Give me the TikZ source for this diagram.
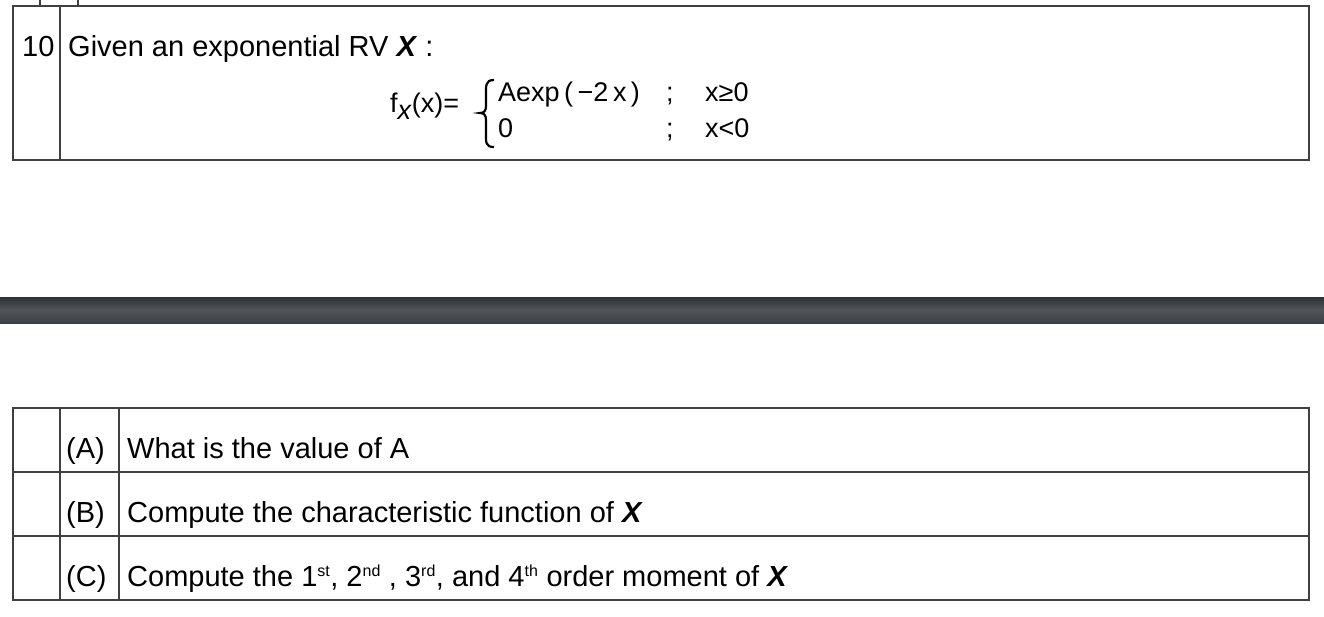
\documentclass[tikz,border=0pt]{standalone}
\usepackage{fontspec}
\setmainfont{Liberation Sans}
\definecolor{bartop}{HTML}{2E3033}
\definecolor{barmid}{HTML}{52565A}
\definecolor{barbot}{HTML}{3C3F42}
\begin{document}
\begin{tikzpicture}[x=1pt,y=-1pt,
  ln/.style={draw=black!75,line width=1.2pt},
  txt/.style={anchor=base west,inner sep=0pt,font=\fontsize{29}{34}\selectfont},
  mtx/.style={anchor=base west,inner sep=0pt,font=\fontsize{27}{32}\selectfont},
  sup/.style={font=\fontsize{16}{18}\selectfont}]
\useasboundingbox (0,0) rectangle (1324,616);
% top table
\draw[ln] (13,6) rectangle (1309,160);
\draw[ln] (60,6) -- (60,160);
\draw[ln] (40,0) -- (40,6);
\draw[ln] (78,0) -- (78,6);
\node[txt] (n10) at (22,56) {10};
\node[txt] (g) at (68,56) {Given an exponential RV \textbf{\textit{X}} :};
\node[mtx] (fx) at (390,112) {f\raisebox{-7pt}{\textit{x}}(x)=};
\draw[line width=2.2pt] (494,80) .. controls (485,80) and (486,86) .. (486,96) -- (486,106) .. controls (486,111) and (484,113) .. (480,113) .. controls (484,113) and (486,115) .. (486,120) -- (486,132) .. controls (486,142) and (485,147) .. (494,147);
\node[mtx] (a1) at (498,101) {Aexp\,(\,−2\,x\,)};
\node[mtx] (a2) at (498,137) {0};
\node[mtx] (s1) at (666,101) {;};
\node[mtx] (s2) at (666,137) {;};
\node[mtx] (c1) at (705,101) {x≥0};
\node[mtx] (c2) at (705,137) {x<0};
% bar
\shade[top color=bartop,bottom color=barbot,middle color=barmid] (0,297) rectangle (1324,323);
% bottom table
\draw[ln] (13,408) rectangle (1309,600);
\draw[ln] (13,472) -- (1309,472);
\draw[ln] (13,536) -- (1309,536);
\draw[ln] (60,408) -- (60,600);
\draw[ln] (119,408) -- (119,600);
\node[txt] (la) at (66,458) {(A)};
\node[txt] (lb) at (66,522) {(B)};
\node[txt] (lc) at (66,586) {(C)};
\node[txt] (ta) at (127,458) {What is the value of A};
\node[txt] (tb) at (127,522) {Compute the characteristic function of \textbf{\textit{X}}};
\node[txt] (tc) at (127,586) {Compute the 1\textsuperscript{\fontsize{16}{18}\selectfont st}, 2\textsuperscript{\fontsize{16}{18}\selectfont nd} , 3\textsuperscript{\fontsize{16}{18}\selectfont rd}, and 4\textsuperscript{\fontsize{16}{18}\selectfont th} order moment of \textbf{\textit{X}}};
\end{tikzpicture}
\end{document}
